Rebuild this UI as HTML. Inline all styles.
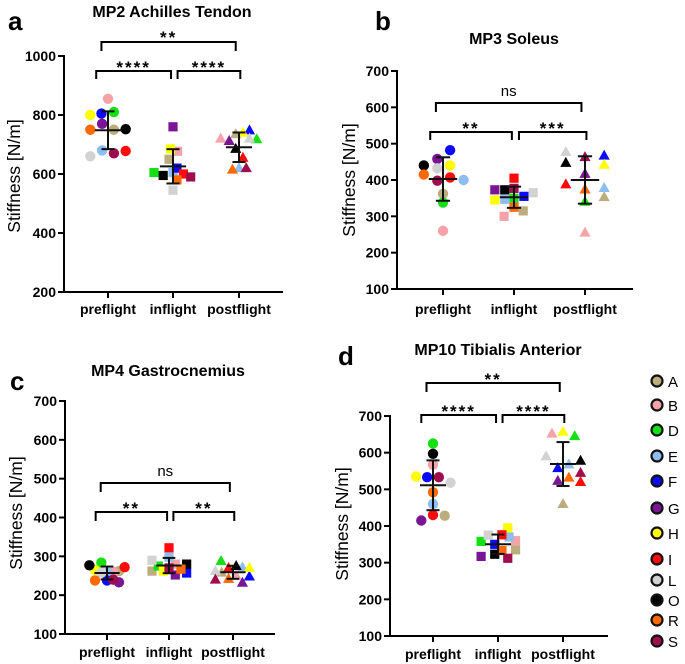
<!DOCTYPE html>
<html><head><meta charset="utf-8">
<style>
html,body{margin:0;padding:0;background:#fff;}
svg{display:block;font-family:"Liberation Sans",Arial,sans-serif;}
</style></head>
<body>
<svg id="chart" width="685" height="664" viewBox="0 0 685 664" xmlns="http://www.w3.org/2000/svg"></svg>
<script>
const subjects = ["A","B","D","E","F","G","H","I","L","O","R","S"];
const subjectColors = ["#bcad7e","#f5a3a8","#14e014","#8ebdf2","#0a0aff","#7a1596","#ffff00","#ff0a0a","#d2d2d2","#000000","#ff6a00","#a00d4c"];
const groups = ["preflight","inflight","postflight"];

const aPre  = [750,855,810,680,805,770,800,678,660,752,750,670];
const aIn   = [650,677,605,605,620,760,685,600,545,595,580,590];
const aPost = [735,720,718,620,748,712,740,655,720,685,615,620];
const aTicks = [200,400,600,800,1000];

const bPre  = [362,260,338,400,482,458,440,407,432,440,415,398];
const bIn   = [315,300,350,347,355,373,345,405,365,373,325,377];
const bPost = [353,255,340,378,467,417,442,388,477,447,374,463];
const bTicks = [100,200,300,400,500,600,700];

const cPre  = [262,260,284,258,238,233,265,272,258,277,238,240];
const cIn   = [262,280,275,298,257,252,262,322,290,280,267,270];
const cPost = [258,250,288,272,248,232,270,270,262,275,242,240];
const cTicks = [100,200,300,400,500,600,700];

const dPre  = [428,567,625,460,533,415,535,430,518,597,492,533];
const dIn   = [335,360,358,370,350,317,395,376,375,323,333,312];
const dPost = [460,652,645,568,558,523,657,520,590,578,532,545];
const dTicks = [100,200,300,400,500,600,700];

// jitter in fraction of category spacing
const aJit = [[0.09,0,0.09,-0.09,-0.1,-0.09,-0.27,0.27,-0.27,0.27,-0.27,0.09],[-0.06,0.07,-0.29,0,0.06,0,-0.04,0.16,0,-0.15,0.06,0.27],[-0.05,-0.28,0.27,0,0.16,-0.15,0.06,0.06,0.16,-0.05,-0.1,0.11]];
const bJit = [[0,0,0,0.29,0.1,-0.08,0.1,0.1,-0.08,-0.27,-0.27,-0.08],[0.13,-0.14,0,-0.13,0.14,-0.27,-0.27,0,0.27,-0.13,0,0],[0.27,0,0,0.27,0.27,0,0.27,-0.27,-0.27,-0.27,0,0]];
const cJit = [[0.19,0.1,-0.09,0.01,0,0.19,-0.19,0.28,-0.09,-0.28,-0.19,0.1],[-0.27,0.1,-0.17,0,0.28,0.1,-0.09,0,-0.27,0.28,0.19,0],[-0.18,0.05,-0.19,0.15,0.26,0.15,0.26,-0.07,-0.28,0.05,-0.07,-0.28]];
const dJit = [[0.18,0,0,0,-0.09,-0.18,-0.26,0,0.27,0,0,0.09],[0.27,0.27,-0.26,0.17,-0.05,-0.26,0.15,0.06,-0.15,-0.05,0.06,0.15],[0,-0.17,0.18,0.09,-0.08,-0.08,0,0.27,-0.26,0.27,0.09,0.27]];

const NS="http://www.w3.org/2000/svg";
const svg=document.getElementById('chart');
function mk(tag,attrs,parent){const e=document.createElementNS(NS,tag);for(const k in attrs)e.setAttribute(k,attrs[k]);(parent||svg).appendChild(e);return e;}
function txt(s,attrs,parent){const e=mk('text',attrs,parent);e.textContent=s;return e;}

const panels=[
 {id:'a',title:'MP2 Achilles Tendon',data:[aPre,aIn,aPost],jit:aJit,ticks:aTicks,min:200,max:1000,ax:64,yTop:56,yBot:292,xs:[108,173,239],xEnd:283,
  titleX:172,titleY:17,letterX:8,letterY:30,ytX:14,ytY:176,catY:314,
  br:[{f:0,t:2,y:42,d:9,lab:'**',ly:37},{f:0,t:1,y:71,d:8,lab:'****',ly:67},{f:1,t:2,y:71,d:8,lab:'****',ly:67}]},
 {id:'b',title:'MP3 Soleus',data:[bPre,bIn,bPost],jit:bJit,ticks:bTicks,min:100,max:700,ax:397,yTop:71,yBot:289,xs:[443,514,585],xEnd:633,
  titleX:514,titleY:44,letterX:375,letterY:30,ytX:349,ytY:180,catY:314,
  br:[{f:0,t:2,y:103,d:9,lab:'ns',ly:96,ns:true},{f:0,t:1,y:132,d:8,lab:'**',ly:128},{f:1,t:2,y:132,d:8,lab:'***',ly:128}]},
 {id:'c',title:'MP4 Gastrocnemius',data:[cPre,cIn,cPost],jit:cJit,ticks:cTicks,min:100,max:700,ax:65,yTop:401,yBot:634,xs:[107,169,233],xEnd:275,
  titleX:168,titleY:376,letterX:10,letterY:390,ytX:16,ytY:513,catY:657,
  br:[{f:0,t:2,y:483,d:9,lab:'ns',ly:476,ns:true},{f:0,t:1,y:512,d:9,lab:'**',ly:508},{f:1,t:2,y:512,d:9,lab:'**',ly:508}]},
 {id:'d',title:'MP10 Tibialis Anterior',data:[dPre,dIn,dPost],jit:dJit,ticks:dTicks,min:100,max:700,ax:390,yTop:416,yBot:636,xs:[433,498,563],xEnd:608,
  titleX:498,titleY:355,letterX:338,letterY:365,ytX:342,ytY:524,catY:659,
  br:[{f:0,t:2,y:383,d:9,lab:'**',ly:379},{f:0,t:1,y:415,d:8,lab:'****',ly:411},{f:1,t:2,y:415,d:8,lab:'****',ly:411}]}
];

panels.forEach(p=>{
  const g=mk('g',{});
  
  
  const yS=v=>p.yBot-(v-p.min)/(p.max-p.min)*(p.yBot-p.yTop);
  const sp=(p.xs[2]-p.xs[0])/2;
  const lt=txt(p.id,{x:p.letterX,y:p.letterY,'font-size':26,'font-weight':'bold'},g);
  
  
  const tt=txt(p.title,{x:p.titleX,y:p.titleY,'font-size':16,'font-weight':'bold','text-anchor':'middle'},g);
  
  
  const yt=txt('Stiffness [N/m]',{x:0,y:0,'font-size':17.5,'text-anchor':'middle',transform:`translate(${p.ytX+6},${p.ytY}) rotate(-90)`},g);
  
  
  const ya=mk('line',{x1:p.ax,y1:p.yTop-1,x2:p.ax,y2:p.yBot+1,stroke:'#000','stroke-width':2},g);
  
  
  const xa=mk('line',{x1:p.ax,y1:p.yBot,x2:p.xEnd,y2:p.yBot,stroke:'#000','stroke-width':2},g);
  
  
  p.ticks.forEach(t=>{
    mk('line',{x1:p.ax-6,y1:yS(t),x2:p.ax,y2:yS(t),stroke:'#000','stroke-width':2},g);
    const tl=txt(String(t),{x:p.ax-8,y:yS(t)+5,'font-size':14,'font-weight':'bold','text-anchor':'end'},g);
    
    
  });
  groups.forEach((gn,i)=>{
    mk('line',{x1:p.xs[i],y1:p.yBot,x2:p.xs[i],y2:p.yBot+6,stroke:'#000','stroke-width':2},g);
    const cl=txt(gn,{x:p.xs[i],y:p.catY,'font-size':14,'font-weight':'bold','text-anchor':'middle'},g);
    
    
  });
  p.data.forEach((arr,gi)=>{
    arr.forEach((v,si)=>{
      const cx=p.xs[gi]+p.jit[gi][si]*sp, cy=yS(v), col=subjectColors[si];
      let m;
      if(gi===0) m=mk('circle',{cx:cx,cy:cy,r:5.2,fill:col},g);
      else if(gi===1) m=mk('rect',{x:cx-4.6,y:cy-4.6,width:9.2,height:9.2,fill:col},g);
      else m=mk('polygon',{points:`${cx},${cy-6} ${cx+5.6},${cy+4} ${cx-5.6},${cy+4}`,fill:col},g);
      
      
    });
  });
  p.data.forEach((arr,gi)=>{
    const n=arr.length, mean=arr.reduce((a,b)=>a+b,0)/n;
    const sd=Math.sqrt(arr.reduce((a,b)=>a+(b-mean)*(b-mean),0)/(n-1));
    const x=p.xs[gi], eb=mk('g',{stroke:'#111','stroke-width':2},g);
    
    
    const mw=sp*0.2, cw=sp*0.1;
    mk('line',{x1:x-mw,y1:yS(mean),x2:x+mw,y2:yS(mean)},eb);
    mk('line',{x1:x,y1:yS(mean+sd),x2:x,y2:yS(mean-sd)},eb);
    mk('line',{x1:x-cw,y1:yS(mean+sd),x2:x+cw,y2:yS(mean+sd)},eb);
    mk('line',{x1:x-cw,y1:yS(mean-sd),x2:x+cw,y2:yS(mean-sd)},eb);
  });
  p.br.forEach(b=>{
    let x1=p.xs[b.f], x2=p.xs[b.t];
    if(b.f===0&&b.t===1){x1=p.xs[0]-sp*0.18;x2=p.xs[1]-sp*0.03;}
    if(b.f===1&&b.t===2){x1=p.xs[1]+sp*0.07;x2=p.xs[2]+sp*0.02;}
    if(b.f===0&&b.t===2){x1=p.xs[0]-sp*0.1;x2=p.xs[2]-sp*0.05;}
    const bg=mk('g',{},g);
    
    
    mk('path',{d:`M${x1},${b.y+b.d} V${b.y} H${x2} V${b.y+b.d}`,fill:'none',stroke:'#000','stroke-width':2},bg);
    txt(b.lab,{x:(x1+x2)/2,y:b.ns?b.ly:b.ly+6,'font-size':b.ns?15:17,'font-weight':b.ns?'normal':'bold','text-anchor':'middle','letter-spacing':b.ns?0:2},bg);
  });
});

const legendY=[381,405,430,456,481,508,533,559,580,600,620,641];
const lg=mk('g',{});


subjects.forEach((s,i)=>{
  const e=mk('g',{},lg);
  
  
  mk('circle',{cx:657,cy:legendY[i],r:5.5,fill:subjectColors[i],stroke:'#111','stroke-width':2.2},e);
  txt(s,{x:668,y:legendY[i]+6,'font-size':15},e);
});
</script>
</body></html>
